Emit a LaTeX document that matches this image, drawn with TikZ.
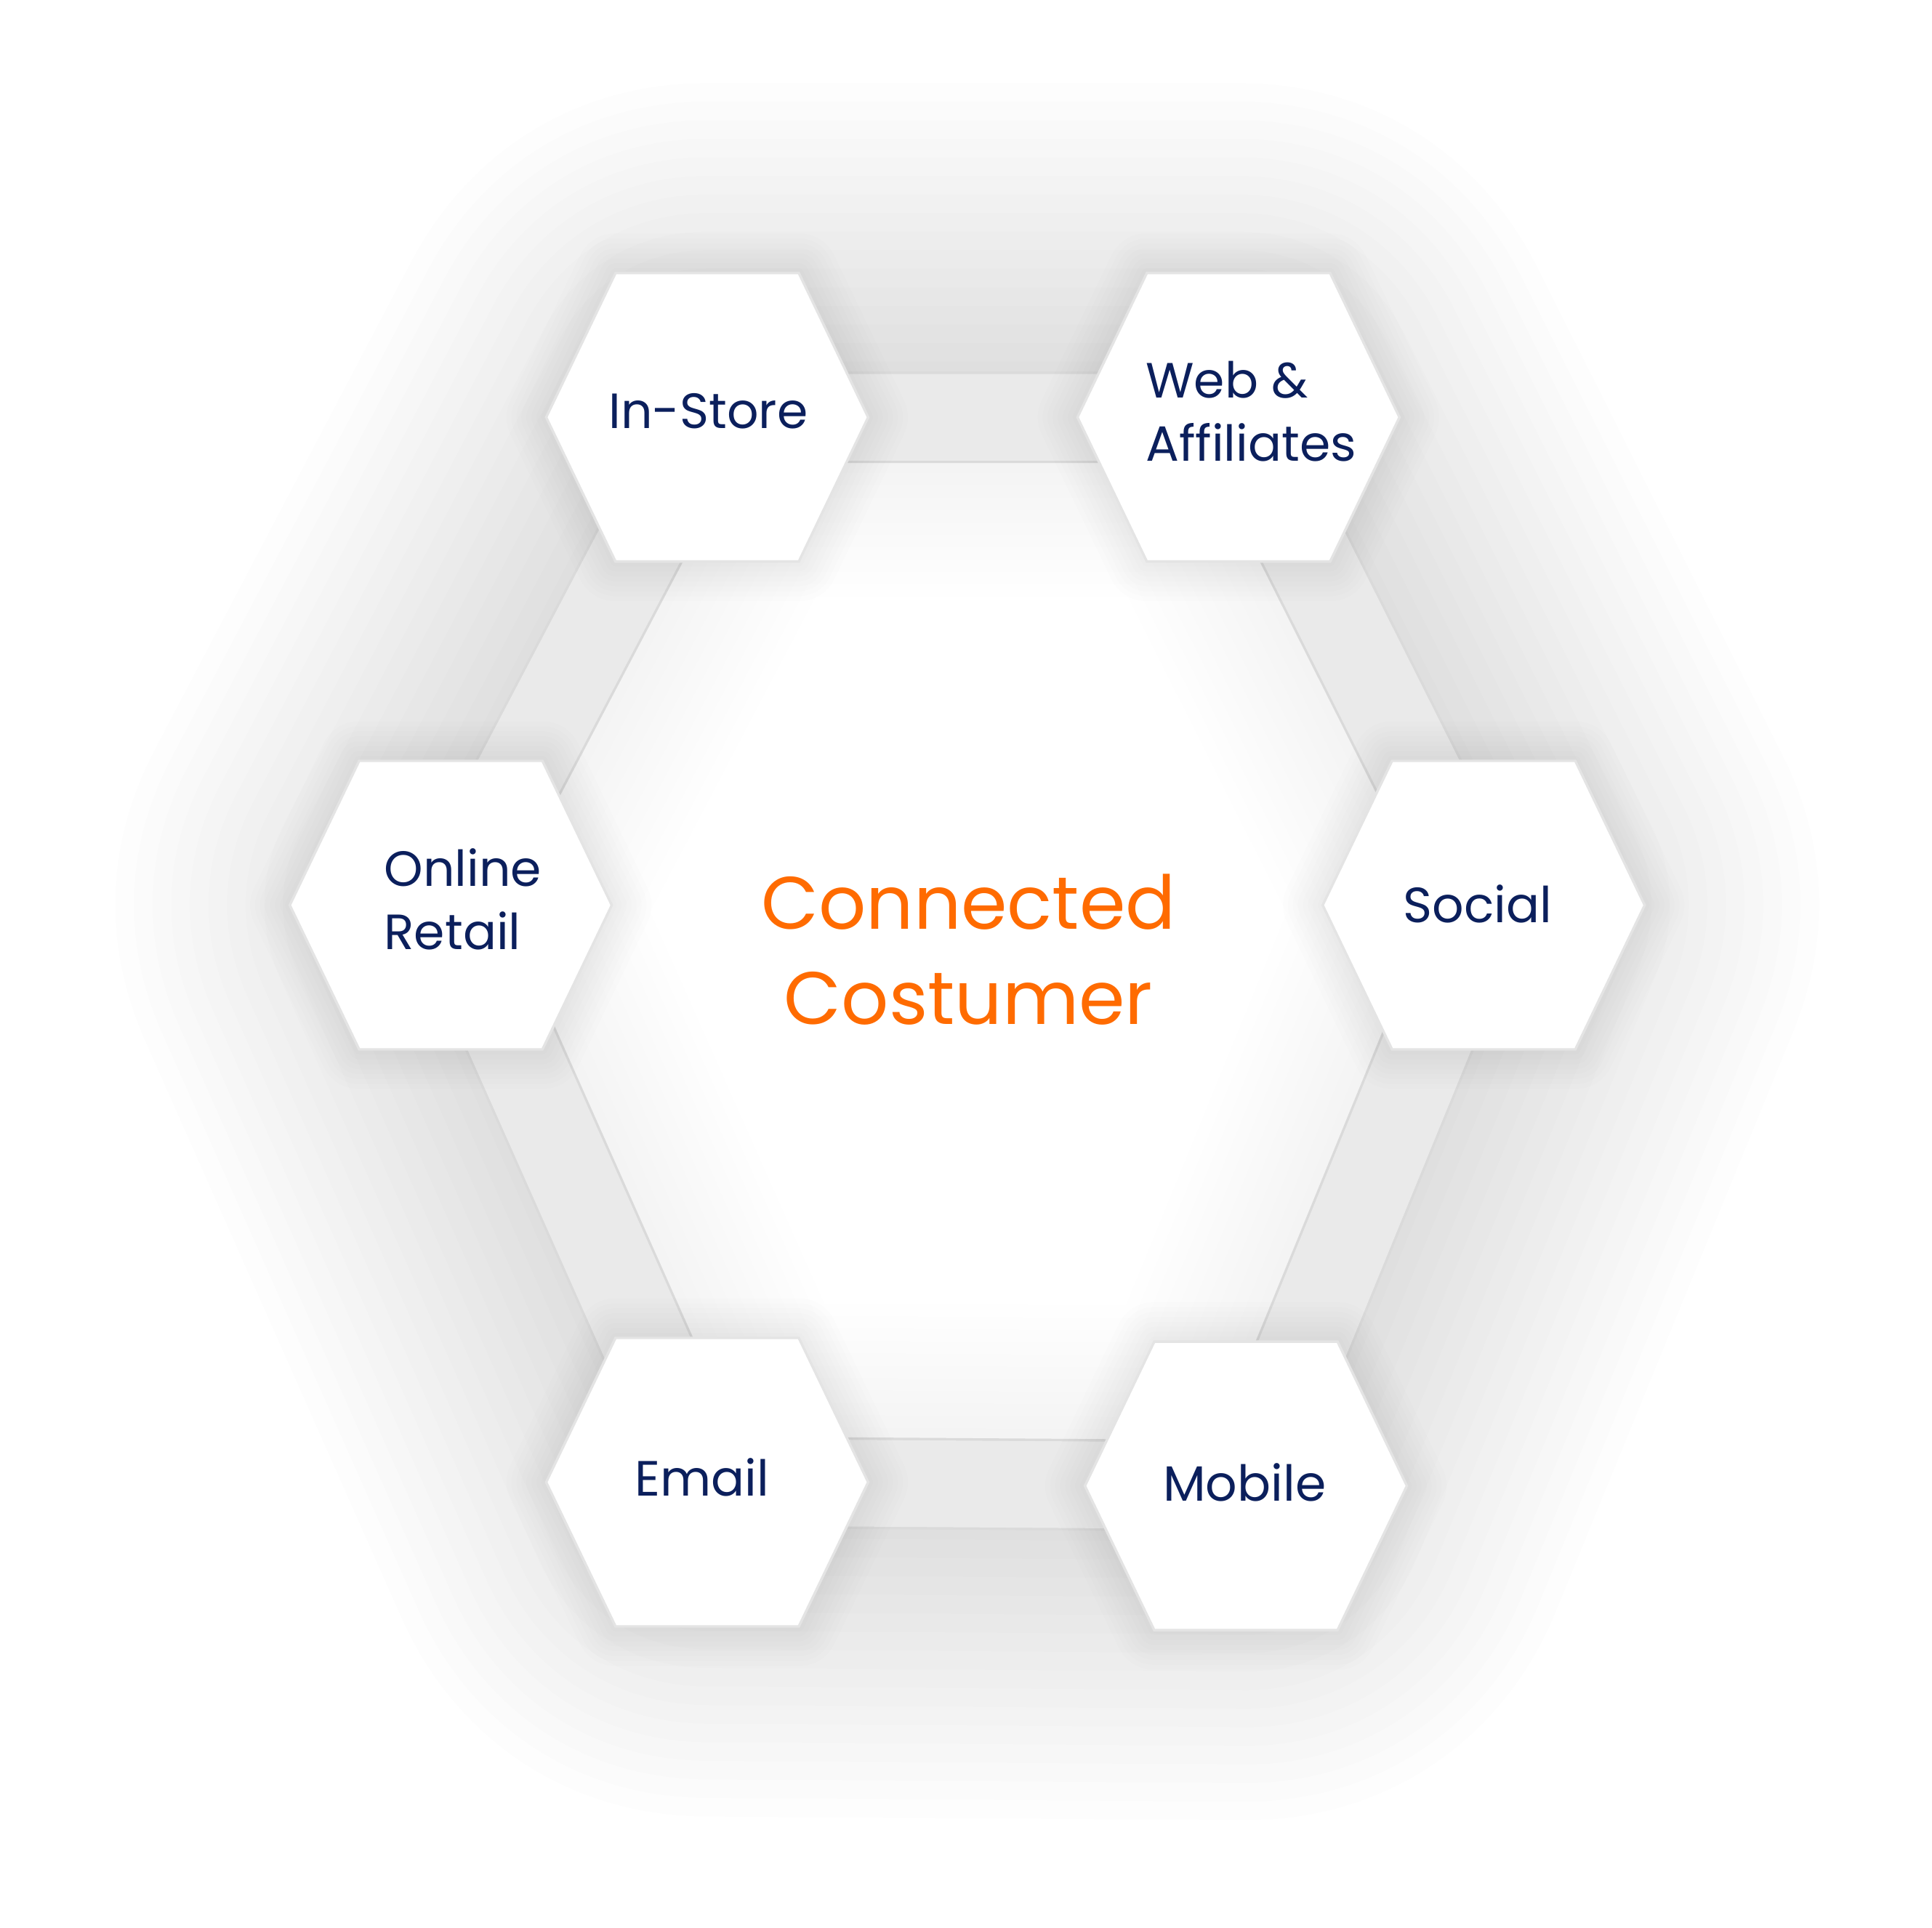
\documentclass[tikz,border=0pt]{standalone}
\usepackage{fontspec}
\setmainfont{Poppins}
\definecolor{navy}{HTML}{0B1F5C}
\definecolor{orng}{HTML}{FF6B00}
\definecolor{bandc}{HTML}{EAEAEA}
\definecolor{bandedge}{HTML}{DADADA}
\definecolor{hexedge}{HTML}{E4E4E4}
\begin{document}
\begin{tikzpicture}[x=1pt,y=-1pt,
  lbl/.style={text=navy, font=\fontsize{40}{51}\selectfont, inner sep=0pt},
  ctr/.style={text=orng, font=\fontsize{60}{77}\selectfont, inner sep=0pt, align=center},
  hexa/.pic={
    \foreach \w in {8,16,...,64}
      \draw[line width=\w, black, opacity=0.006, line join=round]
        (-130,0) -- (-74,-116.5) -- (74,-116.5) -- (130,0) -- (74,116.5) -- (-74,116.5) -- cycle;
    \draw[fill=white, draw=hexedge, line width=2]
        (-130,0) -- (-74,-116.5) -- (74,-116.5) -- (130,0) -- (74,116.5) -- (-74,116.5) -- cycle;
  }]
\useasboundingbox[fill=white] (0,0) rectangle (1560,1557);
\coordinate (is) at (571,337);
\coordinate (wa) at (1000,337);
\coordinate (so) at (1198,731);
\coordinate (mo) at (1006,1200);
\coordinate (em) at (571,1197);
\coordinate (or) at (364,731);
% outer soft shadow
\foreach \w in {90,120,...,540}
  \draw[line width=\w, black, opacity=0.008, line join=round]
    (is) -- (wa) -- (so) -- (mo) -- (em) -- (or) -- cycle;
% inner area
\fill[white] (is) -- (wa) -- (so) -- (mo) -- (em) -- (or) -- cycle;
\begin{scope}
  \clip (is) -- (wa) -- (so) -- (mo) -- (em) -- (or) -- cycle;
  \foreach \w in {90,110,...,290}
    \draw[line width=\w, black, opacity=0.005, line join=round]
      (is) -- (wa) -- (so) -- (mo) -- (em) -- (or) -- cycle;
\end{scope}
% ring band
\draw[bandedge, line width=74] (is) -- (wa) -- (so) -- (mo) -- (em) -- (or) -- cycle;
\draw[bandc, line width=70] (is) -- (wa) -- (so) -- (mo) -- (em) -- (or) -- cycle;
% hexagons
\foreach \c in {is,wa,so,mo,em,or}
  \pic at (\c) {hexa};
% labels
\node[lbl, anchor=base] (tis) at (572,346) {In-Store};
\node[lbl, anchor=west, align=left] (twa) at (925,332) {Web \&\\Affiliates};
\node[lbl, anchor=west, align=left] (tor) at (310,726) {Online\\Retail};
\node[lbl, anchor=base] (tso) at (1193,745) {Social};
\node[lbl, anchor=base] (tem) at (567,1208) {Email};
\node[lbl, anchor=base] (tmo) at (1005,1212) {Mobile};
\node[ctr, anchor=center] (tcc) at (782,767) {Connected\\Costumer};
\end{tikzpicture}
\end{document}
